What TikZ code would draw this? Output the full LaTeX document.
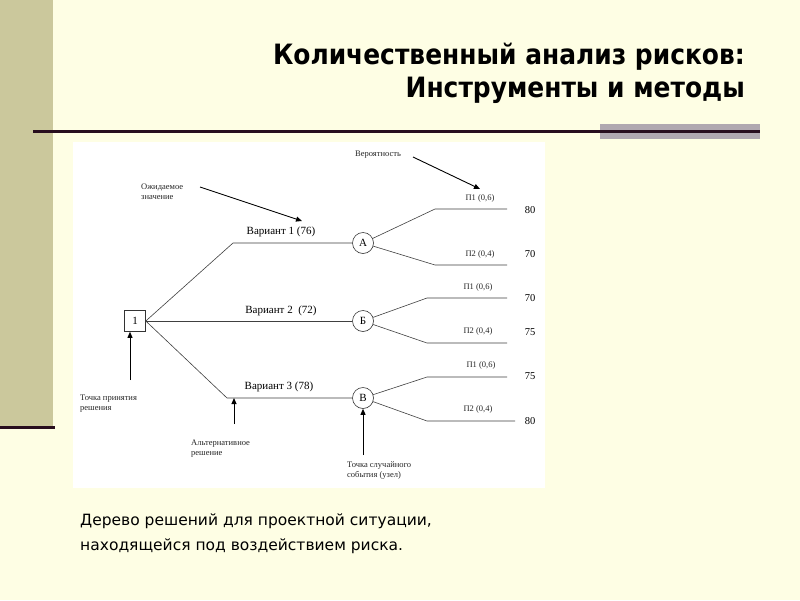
\documentclass[tikz,border=0pt]{standalone}
\usepackage{fontspec}
\setmainfont{Liberation Serif}
\newfontfamily\titlef[FakeStretch=0.89]{DejaVu Sans}
\newfontfamily\capf{DejaVu Sans}
\usetikzlibrary{arrows.meta}
\begin{document}
\begin{tikzpicture}[x=1pt,y=-1pt,
  ln/.style={draw=black!75,line width=0.6pt},
  arr/.style={draw=black,line width=0.9pt,-{Triangle[length=6pt,width=5pt]}},
  note/.style={font=\fontsize{8.5}{10}\selectfont,align=left,anchor=west,inner sep=0pt,text=black!85},
  vlab/.style={font=\fontsize{11}{12}\selectfont,inner sep=0pt},
  plab/.style={font=\fontsize{8.5}{9}\selectfont,inner sep=0pt,text=black!85},
  pay/.style={font=\fontsize{10.5}{12}\selectfont,inner sep=0pt},
  ev/.style={circle,draw=black!80,line width=0.6pt,minimum size=21pt,inner sep=0pt,font=\fontsize{11}{12}\selectfont}]
\useasboundingbox (0,0) rectangle (800,600);
\fill[fill={rgb,255:red,254;green,254;blue,228}] (0,0) rectangle (800,600);
\fill[fill={rgb,255:red,203;green,200;blue,156}] (0,0) rectangle (53,426);
\fill[fill={rgb,255:red,40;green,14;blue,30}] (0,426) rectangle (55,429);
\fill[fill={rgb,255:red,176;green,168;blue,176}] (600,124) rectangle (760,139);
\fill[fill={rgb,255:red,40;green,14;blue,30}] (33,130) rectangle (760,132.5);
\node[anchor=east,font=\titlef\bfseries\fontsize{28}{33}\selectfont,align=right,inner sep=0pt] (title) at (745,73) {Количественный анализ рисков:\\Инструменты и методы};
\fill[white] (73,142) rectangle (545,488);
% tree
\node[draw=black!80,line width=0.6pt,minimum size=21pt,inner sep=0pt,font=\fontsize{11}{12}\selectfont] (d) at (135,321) {1};
\node[ev] (A) at (363,243) {А};
\node[ev] (B) at (363,321) {Б};
\node[ev] (C) at (363,398) {В};
\coordinate (k1) at (233,243);
\coordinate (k3) at (227,398);
\draw[ln] (d.east) -- (k1) -- (A);
\draw[ln] (d.east) -- (B);
\draw[ln] (d.east) -- (k3) -- (C);
\coordinate (a1) at (435,209); \coordinate (a1e) at (507,209);
\coordinate (a2) at (435,265); \coordinate (a2e) at (507,265);
\coordinate (b1) at (427,298); \coordinate (b1e) at (507,298);
\coordinate (b2) at (427,343); \coordinate (b2e) at (507,343);
\coordinate (c1) at (427,377); \coordinate (c1e) at (507,377);
\coordinate (c2) at (427,421); \coordinate (c2e) at (515,421);
\draw[ln] (A) -- (a1) -- (a1e); \draw[ln] (A) -- (a2) -- (a2e);
\draw[ln] (B) -- (b1) -- (b1e); \draw[ln] (B) -- (b2) -- (b2e);
\draw[ln] (C) -- (c1) -- (c1e); \draw[ln] (C) -- (c2) -- (c2e);
\node[vlab] (v1) at (281,232) {Вариант 1 (76)};
\node[vlab] (v2) at (281,311) {Вариант 2\ \ (72)};
\node[vlab] (v3) at (279,387) {Вариант 3 (78)};
\node[plab] (p1) at (480,198) {П1 (0,6)};
\node[plab] (p2) at (480,254) {П2 (0,4)};
\node[plab] (p3) at (478,287) {П1 (0,6)};
\node[plab] (p4) at (478,331) {П2 (0,4)};
\node[plab] (p5) at (481,365) {П1 (0,6)};
\node[plab] (p6) at (478,409) {П2 (0,4)};
\node[pay] (r1) at (530,210) {80};
\node[pay] (r2) at (530,254) {70};
\node[pay] (r3) at (530,298) {70};
\node[pay] (r4) at (530,332) {75};
\node[pay] (r5) at (530,376) {75};
\node[pay] (r6) at (530,421) {80};
% annotations
\node[note] (n1) at (141,192) {Ожидаемое\\значение};
\node[note] (n2) at (355,155) {Вероятность};
\node[note] (n3) at (80,404) {Точка принятия\\решения};
\node[note] (n4) at (191,449) {Альтернативное\\решение};
\node[note] (n5) at (347,470) {Точка случайного\\события (узел)};
\coordinate (e1s) at (200,187); \coordinate (e1t) at (302,221);
\coordinate (e2s) at (413,157); \coordinate (e2t) at (480,189);
\coordinate (e3s) at (130,380);
\coordinate (e4s) at (234,424); \coordinate (e4t) at (234,398);
\coordinate (e5s) at (363,455);
\draw[arr] (e1s) -- (e1t);
\draw[arr] (e2s) -- (e2t);
\draw[arr] (e3s) -- (d.south -| e3s);
\draw[arr] (e4s) -- (e4t);
\draw[arr] (e5s) -- (C.south);
\node[anchor=north west,font=\capf\fontsize{15.5}{25}\selectfont,align=left,inner sep=0pt] (cap) at (80,514) {Дерево решений для проектной ситуации,\\находящейся под воздействием риска.};
\end{tikzpicture}
\end{document}
